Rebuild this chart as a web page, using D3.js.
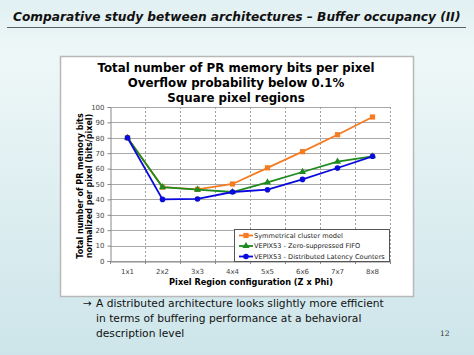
<!DOCTYPE html>
<html><head><meta charset="utf-8">
<script src="https://cdn.jsdelivr.net/npm/d3@7"></script>
<style>html,body{margin:0;padding:0;overflow:hidden;}svg{display:block;}</style>
</head><body>
<script>
const categories = ["1x1","2x2","3x3","4x4","5x5","6x6","7x7","8x8"];
const symmetrical = [80, 48, 46.5, 50, 60.5, 71, 82, 93.5];
const fifo = [80, 48, 46.3, 44.8, 51, 57.8, 64.5, 68];
const dlc = [80, 40, 40.3, 44.8, 46.3, 53, 60.4, 68];
const yTicks = [0,10,20,30,40,50,60,70,80,90,100];
const seriesNames = ["Symmetrical cluster model","VEPIX53 - Zero-suppressed FIFO","VEPIX53 - Distributed Latency Counters"];
const seriesColors = ["#f47b20","#1f8a1f","#0a0adc"];
const markerTypes = ["square","triangle","circle"];

const W = 474, H = 355;
const svg = d3.select("body").append("svg").attr("width", W).attr("height", H);
const defs = svg.append("defs");
const g1 = defs.append("linearGradient").attr("id","bg").attr("x1",0).attr("y1",0).attr("x2",0).attr("y2",1);
g1.append("stop").attr("offset","0%").attr("stop-color","#e1f0f2");
g1.append("stop").attr("offset","15%").attr("stop-color","#eef7f7");
g1.append("stop").attr("offset","100%").attr("stop-color","#cde5ea");
svg.append("rect").attr("width",W).attr("height",H).attr("fill","url(#bg)");

// page title
svg.append("text").attr("x",13).attr("y",21)
  .attr("font-family","DejaVu Sans").attr("font-weight","bold").attr("font-style","italic")
  .attr("font-size",12.2).attr("fill","#111")
  .text("Comparative study between architectures \u2013 Buffer occupancy (II)");
svg.append("line").attr("x1",7).attr("x2",466).attr("y1",27.5).attr("y2",27.5).attr("stroke","#5a6468").attr("stroke-width",1);

// chart box
svg.append("rect").attr("x",60.5).attr("y",56.5).attr("width",353).attr("height",240)
  .attr("fill","#fff").attr("stroke","#b8b8b8").attr("stroke-width",1.5);

// chart title
const titles = ["Total number of PR memory bits per pixel","Overflow probability below 0.1%","Square pixel regions"];
svg.append("g").selectAll("text").data(titles).join("text")
  .attr("x",236).attr("y",(d,i)=>72+i*15).attr("text-anchor","middle")
  .attr("font-family","DejaVu Sans").attr("font-weight","bold").attr("font-size",11.8).attr("fill","#000")
  .text(d=>d);

const x = d3.scaleBand().domain(categories).range([110,390]);
const y = d3.scaleLinear().domain([0,100]).range([261,107]);

// gridlines
const grid = svg.append("g");
grid.selectAll("line.h").data(yTicks).join("line").attr("class","h")
  .attr("x1",110).attr("x2",390).attr("y1",d=>Math.round(y(d))+0.5).attr("y2",d=>Math.round(y(d))+0.5)
  .attr("stroke","#a8a8a8").attr("stroke-width",1);
grid.selectAll("line.v").data(categories.slice(1).concat(["end"])).join("line").attr("class","v")
  .attr("x1",d=>Math.round(d==="end"?390:x(d))+0.5).attr("x2",d=>Math.round(d==="end"?390:x(d))+0.5)
  .attr("y1",107).attr("y2",261)
  .attr("stroke","#a0a0a0").attr("stroke-width",1).attr("stroke-dasharray","2,2");

// axes
const yAxis = svg.append("g").attr("transform","translate(110.5,0)")
  .call(d3.axisLeft(y).tickValues(yTicks).tickSize(3).tickPadding(3));
yAxis.select(".domain").attr("stroke","#888");
yAxis.selectAll(".tick line").attr("stroke","#888");
yAxis.selectAll("text").attr("font-family","DejaVu Sans").attr("font-size",7).attr("fill","#444");

const xAxis = svg.append("g").attr("transform","translate(0,261.5)")
  .call(d3.axisBottom(x).tickSize(0).tickPadding(8));
xAxis.select(".domain").attr("stroke","#888");
xAxis.selectAll("text").attr("font-family","DejaVu Sans").attr("font-size",7).attr("fill","#444");
svg.append("g").selectAll("line").data(categories.concat(["end"])).join("line")
  .attr("x1",d=>Math.round(d==="end"?390:x(d))+0.5).attr("x2",d=>Math.round(d==="end"?390:x(d))+0.5)
  .attr("y1",261).attr("y2",264).attr("stroke","#888");

// axis titles
svg.append("text").attr("x",251).attr("y",285).attr("text-anchor","middle")
  .attr("font-family","DejaVu Sans").attr("font-weight","bold").attr("font-size",8.2).attr("fill","#000")
  .text("Pixel Region configuration (Z x Phi)");
const yt = svg.append("text").attr("transform","translate(83,186) rotate(-90)").attr("text-anchor","middle")
  .attr("font-family","DejaVu Sans").attr("font-weight","bold").attr("font-size",8).attr("fill","#000");
yt.append("tspan").attr("x",0).attr("y",0).text("Total number of PR memory bits");
yt.append("tspan").attr("x",0).attr("y",8.5).text("normalized per pixel (bits/pixel)");

// series
const data = [symmetrical, fifo, dlc];
const line = d3.line().x((d,i)=>x(categories[i])+x.bandwidth()/2).y(d=>y(d));
function marker(sel, type, color){
  if(type==="square") sel.append("rect").attr("x",-2.6).attr("y",-2.6).attr("width",5.2).attr("height",5.2).attr("fill",color);
  else if(type==="triangle") sel.append("path").attr("d",d3.symbol(d3.symbolTriangle,22)()).attr("fill",color);
  else sel.append("circle").attr("r",2.8).attr("fill",color);
}
data.forEach((vals,k)=>{
  svg.append("path").datum(vals).attr("d",line).attr("fill","none")
    .attr("stroke",seriesColors[k]).attr("stroke-width",1.8);
  vals.forEach((v,i)=>{
    const m = svg.append("g").attr("transform",`translate(${x(categories[i])+x.bandwidth()/2},${y(v)})`);
    marker(m, markerTypes[k], seriesColors[k]);
  });
});

// legend
const lg = svg.append("g");
lg.append("rect").attr("x",234.5).attr("y",229.5).attr("width",155).attr("height",32)
  .attr("fill","#fff").attr("stroke","#555").attr("stroke-width",1);
seriesNames.forEach((n,k)=>{
  const yy = 235.5 + k*10.5;
  lg.append("line").attr("x1",239).attr("x2",253).attr("y1",yy).attr("y2",yy)
    .attr("stroke",seriesColors[k]).attr("stroke-width",1.8);
  const m = lg.append("g").attr("transform",`translate(246,${yy})`);
  marker(m, markerTypes[k], seriesColors[k]);
  lg.append("text").attr("x",254).attr("y",yy+2.4)
    .attr("font-family","DejaVu Sans").attr("font-size",6.6).attr("fill","#222").text(n);
});

// bullet text
const bulletLines = ["A distributed architecture looks slightly more efficient",
  "in terms of buffering performance at a behavioral",
  "description level"];
const bt = svg.append("g");
bt.append("text").attr("x",83).attr("y",307).attr("font-family","DejaVu Sans").attr("font-size",10.5).attr("fill","#111").text("\u2192");
bt.selectAll("text.l").data(bulletLines).join("text").attr("class","l")
  .attr("x",96).attr("y",(d,i)=>307+i*15)
  .attr("font-family","DejaVu Sans").attr("font-size",10.7).attr("fill","#111").text(d=>d);

svg.append("text").attr("x",440).attr("y",336).attr("font-family","DejaVu Serif").attr("font-size",7.5).attr("fill","#333").text("12");
</script>
</body></html>
